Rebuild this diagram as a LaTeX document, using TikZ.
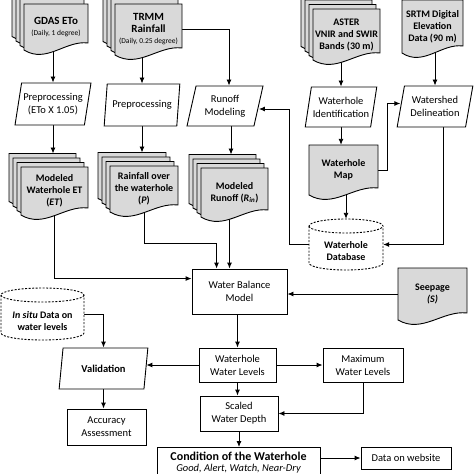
\documentclass[tikz,border=0pt]{standalone}
\usepackage{fontspec}
\setmainfont{Carlito}
\usetikzlibrary{shapes.geometric,arrows.meta}
\pgfdeclarelayer{bg}
\pgfsetlayers{bg,main}
\definecolor{docgray}{HTML}{D9D9D9}
\tikzset{
  conn/.style={line width=0.9pt, draw=black, -{Latex[length=6pt,width=5pt]}},
  docline/.style={line width=0.9pt, draw=black, fill=docgray},
  cylline/.style={line width=0.9pt, draw=black, fill=white, dashed, dash pattern=on 2pt off 1.5pt},
  plainbox/.style={draw, line width=0.9pt, fill=white, rectangle, align=center, inner sep=0pt,
    font=\fontsize{10.5}{13}\selectfont},
  parabox/.style={draw, line width=0.9pt, fill=white, trapezium, trapezium left angle=74,
    trapezium right angle=106, trapezium stretches=true, align=center, inner sep=0pt,
    font=\fontsize{10.5}{13}\selectfont},
  doctext/.style={align=center, inner sep=0pt, font=\bfseries\fontsize{10}{12}\selectfont},
  anchorbox/.style={inner sep=0pt, rectangle},
}
\newcommand{\bigtxt}[1]{{\fontsize{11}{13}\selectfont #1}}
\newcommand{\smalltxt}[1]{{\mdseries\fontsize{7.5}{9}\selectfont #1}}
% document shape: x1 y1 x2 y2 (y2 = left bottom end)
\newcommand{\docshape}[5][]{%
  \filldraw[docline,#1] (#2,#3) -- (#4,#3) -- (#4,#5-7)
    .. controls ({#2+0.65*(#4-#2)},#5-10) and ({#2+0.35*(#4-#2)},#5+14) .. (#2,#5) -- cycle;}
% name x1 y1 x2 y2 layers text
\newcommand{\docnode}[7]{%
  \ifnum#6>2 \docshape[shift={(-12,-13.5)}]{#2}{#3}{#4}{#5}\fi
  \ifnum#6>1 \docshape[shift={(-8,-9)}]{#2}{#3}{#4}{#5}\fi
  \ifnum#6>0 \docshape[shift={(-4,-4.5)}]{#2}{#3}{#4}{#5}\fi
  \docshape{#2}{#3}{#4}{#5}
  \node[doctext, minimum width={(#4-#2)*1pt}, minimum height={(#5-#3)*1pt}] (#1)
    at ({(#2+#4)/2},{(#3+#5)/2}) {#7};
  \coordinate (#1-top) at ({(#2+#4)/2-4*#6},{#3-4.5*#6});}
% cylinder: name x1 y1 x2 y2 text
\newcommand{\cylnode}[6]{%
  \pgfmathsetmacro\cylrx{(#4-#2)/2}
  \filldraw[cylline] (#2,#3+7) -- (#2,#5-7)
    arc[start angle=180,end angle=360,x radius=\cylrx pt,y radius=7pt]
    -- (#4,#3+7) arc[start angle=0,end angle=180,x radius=\cylrx pt,y radius=7pt] -- cycle;
  \draw[cylline] (#2,#3+7) arc[start angle=180,end angle=360,x radius=\cylrx pt,y radius=7pt];
  \node[anchorbox, minimum width={(#4-#2)*1pt}, minimum height={(#5-#3)*1pt}] (#1)
    at ({(#2+#4)/2},{(#3+#5)/2}) {};
  \node[doctext] (#1-label) at ({(#2+#4)/2},{(#3+#5)/2+7}) {#6};}
\newcommand{\boxnode}[7][plainbox]{%
  \node[#1, minimum width={(#5-#3)*1pt}, minimum height={(#6-#4)*1pt}] (#2)
    at ({(#3+#5)/2},{(#4+#6)/2}) {#7};}

\begin{document}
\begin{tikzpicture}[x=1pt,y=-1pt]
\clip (0,0) rectangle (474,474);
\useasboundingbox (0,0) rectangle (474,474);

% top data sources
\docnode{gdas}{24}{4}{88}{50}{3}{\bigtxt{GDAS ETo}\\[-1pt]\smalltxt{(Daily, 1 degree)}}
\docnode{trmm}{115}{4}{182}{55}{3}{\bigtxt{TRMM}\\\bigtxt{Rainfall}\\[-1pt]\smalltxt{(Daily, 0.25 degree)}}
\docnode{aster}{313}{9}{380}{60}{3}{ASTER\\VNIR and SWIR\\Bands (30 m)}
\docnode{srtm}{402}{0}{463}{53}{0}{SRTM Digital\\Elevation\\Data (90 m)}

% processing
\boxnode[parabox]{pre1}{15}{83}{91}{125}{Preprocessing\\(ETo X 1.05)}
\boxnode[parabox]{pre2}{104}{84}{180}{126}{Preprocessing}
\boxnode[parabox]{runm}{187}{86}{263}{126}{Runoff\\Modeling}
\boxnode[parabox]{wid}{305}{87}{377}{127}{Waterhole\\Identification}
\boxnode[parabox]{wsd}{397}{86}{473}{127}{Watershed\\Delineation}

% intermediate documents
\docnode{et}{21}{167}{88}{215}{3}{Modeled\\Waterhole ET\\(\textit{ET})}
\docnode{rain}{110}{166}{178}{212}{3}{Rainfall over\\the waterhole\\(\textit{P})}
\docnode{rdoc}{201}{168}{268}{217}{3}{Modeled\\Runoff (\textit{R}\textsubscript{\textit{in}})}
\docnode{map}{309}{145}{378}{195}{0}{Waterhole\\Map}
\docnode{seep}{398}{268}{467}{320}{0}{Seepage\\\textit{(S)}}

% databases
\cylnode{db}{309}{219}{383}{270}{Waterhole\\Database}
\cylnode{insitu}{1}{288}{84}{340}{\textit{In situ} Data on\\water levels}

% model and outputs
\boxnode{wbm}{192}{269}{287}{314}{Water Balance\\Model}
\boxnode[parabox]{valid}{59}{348}{148}{389}{\textbf{Validation}}
\boxnode{wwl}{199}{348}{276}{382}{Waterhole\\Water Levels}
\boxnode{mwl}{323}{348}{403}{382}{Maximum\\Water Levels}
\boxnode{swd}{200}{396}{278}{431}{Scaled\\Water Depth}
\boxnode{acc}{67}{409}{146}{445}{Accuracy\\Assessment}
\boxnode{web}{361}{447}{451}{469}{Data on website}
\node[plainbox, anchor=north, minimum width=163pt, inner ysep=5pt] (cond) at (238.5,447)
  {{\bfseries\fontsize{12}{13}\selectfont Condition of the Waterhole}\\[-2.5pt]
   {\itshape\fontsize{10.5}{12}\selectfont Good, Alert, Watch, Near-Dry}\\[4pt]};

\begin{pgfonlayer}{bg}
\draw[conn] (pre1.north |- gdas.south) -- (pre1.north);
\draw[conn] (pre2.north |- trmm.south) -- (pre2.north);
\draw[conn] (trmm.east) -| ([xshift=4pt]runm.north);
\draw[conn] (wid.north |- aster.south) -- (wid.north);
\draw[conn] (wsd.north |- srtm.south) -- (wsd.north);
\draw[conn] (pre1.south) -- (pre1.south |- et-top);
\draw[conn] (pre2.south) -- (pre2.south |- rain-top);
\draw[conn] ([xshift=6pt]runm.south) -- ([xshift=6pt]runm.south |- rdoc-top);
\draw[conn] (wid.south) -- (wid.south |- map.north);
\draw[conn] (map.south -| db.north) -- (db.north);
\draw[conn] (map.east) -- ++(9,0) |- ([yshift=3pt]wsd.west);
\draw[conn] ([xshift=8pt]wsd.south) |- (db.east);
\draw[conn] (db.west) -- ++(-19,0) |- ([yshift=-3pt]runm.east);
\draw[conn] (et.south) |- ([yshift=-10pt]wbm.north west);
\draw[conn] (rain.south) -- ++(0,31) -| ([xshift=25pt]wbm.north west);
\draw[conn] ([xshift=-5pt]rdoc.south) -- ([xshift=-5pt]rdoc.south |- wbm.north);
\draw[conn] (seep.west) -- (seep.west -| wbm.east);
\draw[conn] (wwl.north |- wbm.south) -- (wwl.north);
\draw[conn] (insitu.east) -| (valid.north);
\draw[conn] (wwl.west) -- (wwl.west -| valid.east);
\draw[conn] (wwl.east) -- (mwl.west);
\draw[conn] (valid.south) -- (valid.south |- acc.north);
\draw[conn] (wwl.south) -- (wwl.south |- swd.north);
\draw[conn] (mwl.south) |- (swd.east);
\draw[conn] (swd.south) -- (swd.south |- cond.north);
\draw[conn] (web.west -| cond.east) -- (web.west);
\end{pgfonlayer}
\end{tikzpicture}
\end{document}
